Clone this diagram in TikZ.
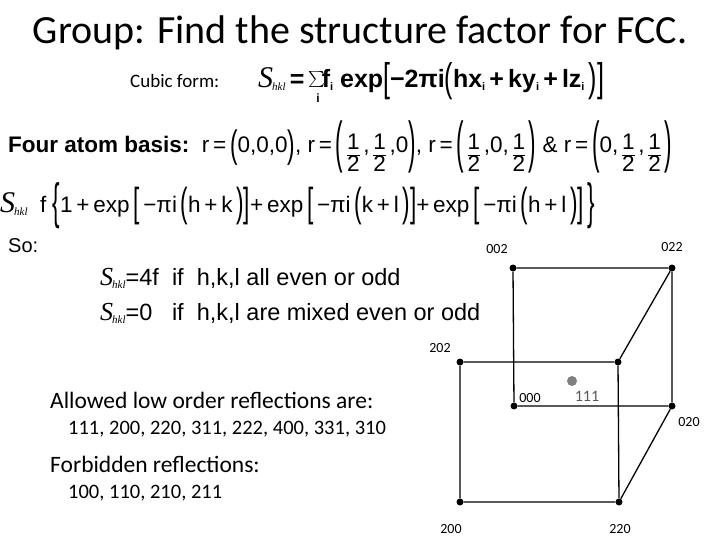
\documentclass[tikz,border=0pt]{standalone}
\usepackage{fontspec}
\usepackage{graphicx}
\setmainfont{Carlito}
\newfontfamily\ar{Liberation Sans}
\newfontfamily\tm{Liberation Serif}
\begin{document}
\begin{tikzpicture}[x=1pt,y=-1pt,
  lbl/.style={anchor=base west,inner sep=0pt},
  pt/.style={circle,fill=black,inner sep=0pt,minimum size=7pt},
  num/.style={font=\fontsize{14}{14}\selectfont,inner sep=1pt},
  edge/.style={line width=1.3pt}]
\newcommand\Shkl[1]{{\tm\mdseries\itshape{\fontsize{#1}{#1}\selectfont S}\kern-1pt\raisebox{-3pt}{\fontsize{11}{11}\selectfont hkl}}}
\newcommand\sub[1]{\raisebox{-3pt}{\fontsize{11}{11}\selectfont #1}}
\newcommand\tall[3]{\raisebox{#2}{\scalebox{1}[#1]{\mdseries #3}}}
\newcommand\ta[1]{\tall{1.6}{-0.16em}{#1}}
\newcommand\tb[1]{\tall{2.5}{-0.39em}{#1}}
\newcommand\tc[1]{\tall{2.2}{-0.31em}{#1}}
\newcommand\td[1]{\tall{1.8}{-0.21em}{#1}}
\newcommand\half{\,\raisebox{-0.35em}{\renewcommand\arraystretch{0.9}\begin{tabular}{@{}c@{}}1\\\hline 2\end{tabular}}\,}
\useasboundingbox[fill=white] (0,0) rectangle (720,540);
\node[anchor=base] (title) at (360,44) {\fontsize{40}{40}\selectfont Group: Find the structure factor for FCC.};
\node[lbl] (cubic) at (130,88) {\fontsize{19}{19}\selectfont Cubic form:};
\node[lbl] (f1) at (258,88) {\ar\bfseries\fontsize{25}{25}\selectfont \Shkl{30}\,=\,\raisebox{-1pt}{\scalebox{1.6}{$\sum$}}\raisebox{-15pt}{\kern-9pt\fontsize{12}{12}\selectfont i}\kern2pt f\sub{i} exp\ta{[}−2πi\ta{(}hx\sub{i}\,+\,ky\sub{i}\,+\,lz\sub{i}\,\ta{)}\ta{]}};
\node[lbl] (f2) at (8,153) {\ar\fontsize{22.5}{22.5}\selectfont \textbf{Four atom basis:}\ \ r\,=\,\tall{1.7}{-0.18em}{(}0,0,0\tall{1.7}{-0.18em}{)}, r\,=\,\tb{(}\half,\half,0\tb{)}, r\,=\,\tb{(}\half,0,\half\tb{)} \& r\,=\,\tb{(}0,\half,\half\tb{)}};
\node[lbl] (f3) at (0,212) {\ar\fontsize{22.5}{22.5}\selectfont \Shkl{30}\ \ f \tc{\{}1\,+\,exp\,\td{[}\,−πi\,\td{(}h\,+\,k\,\td{)}\td{]}+\,exp\,\td{[}\,−πi\,\td{(}k\,+\,l\,\td{)}\td{]}+\,exp\,\td{[}\,−πi\,\td{(}h\,+\,l\,\td{)}\td{]}\,\tc{\}}};
\node[lbl] (so) at (8,252) {\ar\fontsize{20}{20}\selectfont So:};
\node[lbl] (c1) at (100,285) {\ar\fontsize{23.5}{23.5}\selectfont \Shkl{26}=4f\ \ if\ \ h,k,l all even or odd};
\node[lbl] (c2) at (100,320) {\ar\fontsize{23.5}{23.5}\selectfont \Shkl{26}=0\ \ \ if\ \ h,k,l are mixed even or odd};
\node[lbl] (al) at (50,408) {\fontsize{23.5}{23.5}\selectfont Allowed low order reflections are:};
\node[lbl] (al2) at (68,434) {\fontsize{20.5}{20.5}\selectfont 111, 200, 220, 311, 222, 400, 331, 310};
\node[lbl] (fb) at (50,472) {\fontsize{23.5}{23.5}\selectfont Forbidden reflections:};
\node[lbl] (fb2) at (68,498) {\fontsize{20.5}{20.5}\selectfont 100, 110, 210, 211};
% cube
\node[pt] (p002) at (513,268) {};
\node[pt] (p022) at (672,268) {};
\node[pt] (p202) at (460,362) {};
\node[pt] (p222) at (618,362) {};
\node[pt] (p000) at (514,406) {};
\node[pt] (p020) at (672,406) {};
\node[pt] (p200) at (460,502) {};
\node[pt] (p220) at (619,502) {};
\node[circle,fill=gray,inner sep=0pt,minimum size=10pt] (p111) at (572,381) {};
\draw[edge] (p002)--(p022)--(p222)--(p202)--cycle;
\draw[edge] (p000)--(p020)--(p220)--(p200)--cycle;
\draw[edge] (p002)--(p000) (p022)--(p020) (p202)--(p200) (p222)--(p220);
\node[num] at (497,249) {002};
\node[num] at (672,247) {022};
\node[num] at (440,348) {202};
\node[num] at (530,398) {000};
\node[num,text=gray!70!black,font=\fontsize{16}{16}\selectfont] at (587,396) {111};
\node[num] at (689,422) {020};
\node[num] at (451,529) {200};
\node[num] at (620,529) {220};
\end{tikzpicture}
\end{document}
